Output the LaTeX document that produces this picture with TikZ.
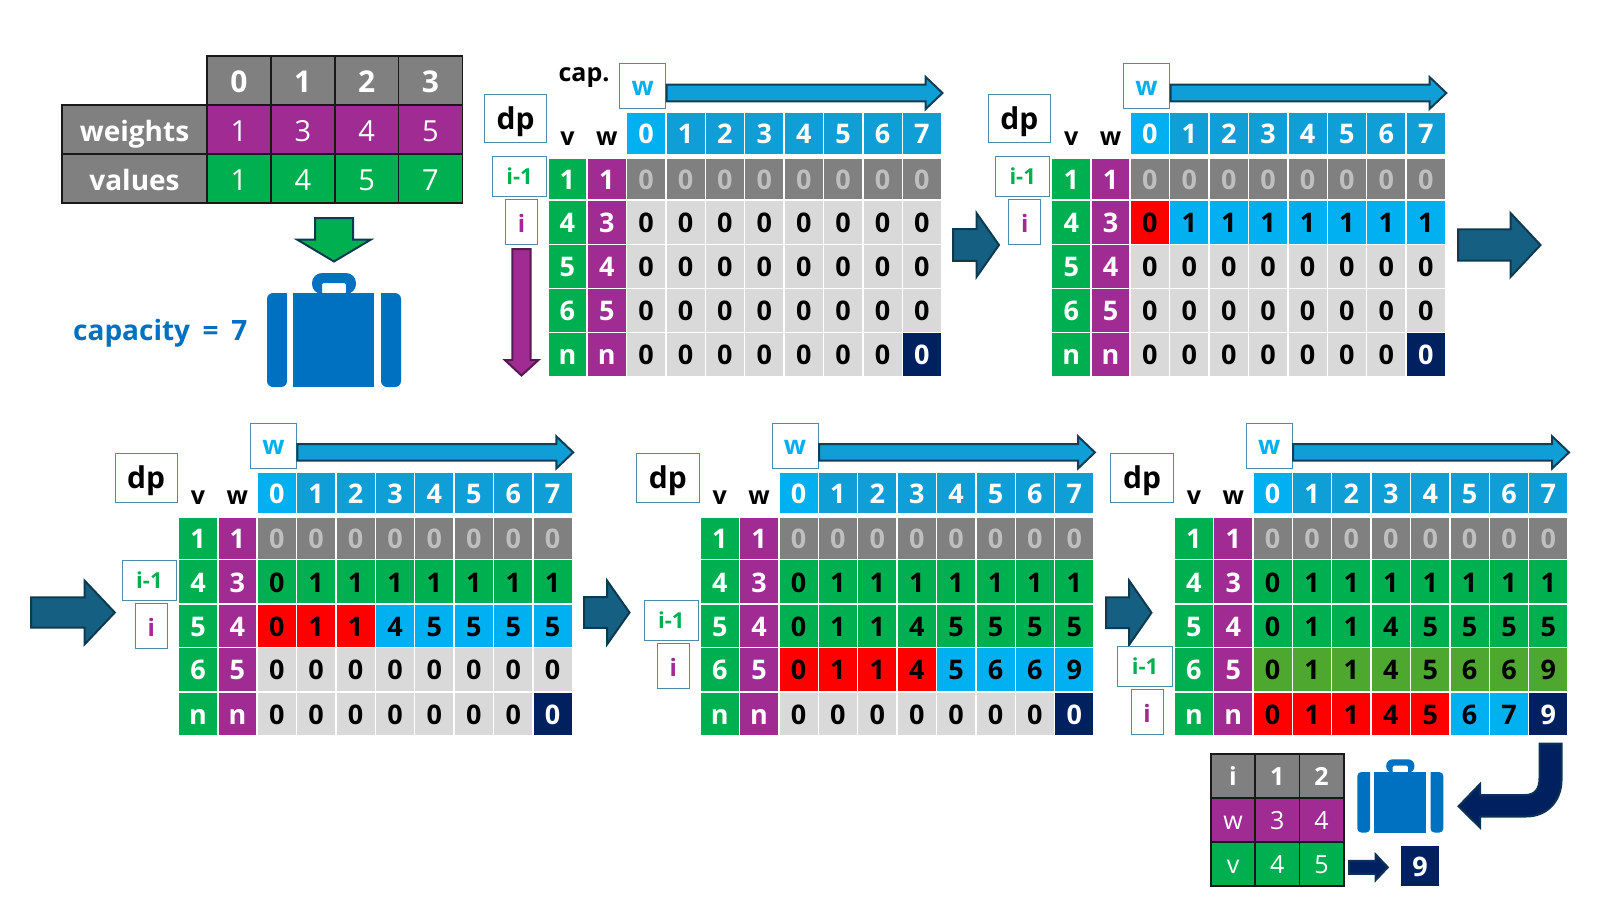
\documentclass[tikz,border=0pt]{standalone}
\usepackage{fontspec}
\setmainfont{Open Sans}

\definecolor{cgray}{HTML}{808080}
\definecolor{cfade}{HTML}{BFBFBF}
\definecolor{clight}{HTML}{D9D9D9}
\definecolor{cgreen}{HTML}{00B050}
\definecolor{colive}{HTML}{4EA72E}
\definecolor{cpurple}{HTML}{A02B93}
\definecolor{cred}{HTML}{FF0000}
\definecolor{csky}{HTML}{00B0F0}
\definecolor{chead}{HTML}{0F9ED5}
\definecolor{cnavy}{HTML}{002060}
\definecolor{cteal}{HTML}{156082}
\definecolor{cbag}{HTML}{0070C0}
\definecolor{cedge}{HTML}{4D8CA8}
\definecolor{cdark}{HTML}{0E3A50}

\tikzset{
    dpcell/.style={inner sep=0pt, minimum width=38pt, text=black, text height=20.5pt, text depth=0pt,
        font=\fontsize{27}{29}\selectfont\bfseries},
    dpside/.style={dpcell, minimum width=37.8pt, text=white},
    dpbox/.style={draw=cedge, line width=1pt, fill=white, inner sep=0pt},
    dplabel/.style={anchor=base, inner sep=0pt, font=\fontsize{25}{27}\selectfont\bfseries},
    tabcell/.style={draw=black!90, line width=1.6pt, inner sep=0pt, text=white, text height=23.5pt, text depth=0pt,
        font=\fontsize{29}{31}\selectfont},
    minicell/.style={draw=black!90, line width=1.6pt, inner sep=0pt, minimum width=44.3pt, minimum height=44pt,
        text=white, text height=19pt, text depth=0pt, font=\fontsize{25}{27}\selectfont},
    blockarrow/.style={line width=2pt, line join=miter, fill=cteal, draw=cdark},
    warrow/.style={blockarrow, fill=chead, draw=cdark!90!cteal},
}

% block arrow pointing right: style, start, head base, tip, y, half shaft, half head
\newcommand{\rightblock}[7]{
    \draw[#1] (#2,#5-#6) -- (#3,#5-#6) -- (#3,#5-#7) -- (#4,#5) -- (#3,#5+#7) -- (#3,#5+#6) -- (#2,#5+#6) -- cycle;
}

% one row of values
\newcommand{\dprow}[5]{
    \edef\dplist{#5}
    \foreach \fc/\val [count=\col from 0] in \dplist {
        \node[dpcell, minimum height=#4, fill=\fc] (#1c\col) at ({#2+97.6+39.4*\col},{#3}) {\val};
    }
}

% whole table: name, x, y, rows 2 to 5, last value
\newcommand{\dpgrid}[8]{
    \node[dpbox, minimum width=62.4pt, minimum height=48.4pt, text height=28pt, text depth=6pt, font=\fontsize{30}{32}\selectfont\bfseries] (#1dp) at ({#2-33},{#3+5.2}) {dp};
    \node[dpbox, minimum width=46pt, minimum height=44.7pt, text=csky, text height=17.4pt, text depth=0pt, font=\fontsize{26}{28}\selectfont\bfseries] (#1w) at ({#2+94.2},{#3-27}) {w};
    \rightblock{warrow}{#2+118.2}{#2+377.2}{#2+394}{#3-20.3}{8.3}{16}
    \node[dplabel] (#1vlabel) at ({#2+18.9},{#3+31.7}) {v};
    \node[dplabel] (#1wlabel) at ({#2+58.2},{#3+31.7}) {w};

    % header and first row
    \foreach \k in {0,...,7} {
        \ifnum\k=0 \def\headfill{csky}\else\def\headfill{chead}\fi
        \node[dpcell, text=white, minimum height=40.7pt, fill=\headfill] (#1h\k) at ({#2+97.6+39.4*\k},{#3+20.4}) {\k};
        \node[dpcell, text=cfade, minimum height=40.5pt, fill=cgray] (#1r1c\k) at ({#2+97.6+39.4*\k},{#3+65.9}) {0};
    }

    % v and w columns
    \foreach \ry/\rh/\vv/\ww [count=\rw] in {65.9/40.5/1/1,109.2/43/4/3,153.2/42.4/5/4,197/42.7/6/5,241.2/42.4/n/n} {
        \node[dpside, minimum height=\rh, fill=cgreen] (#1v\rw) at ({#2+18.9},{#3+\ry}) {\vv};
        \node[dpside, minimum height=\rh, fill=cpurple] (#1u\rw) at ({#2+58.2},{#3+\ry}) {\ww};
    }

    \dprow{#1r2}{#2}{#3+109.2}{43}{#4}
    \dprow{#1r3}{#2}{#3+153.2}{42.4}{#5}
    \dprow{#1r4}{#2}{#3+197}{42.7}{#6}
    \dprow{#1r5}{#2}{#3+241.2}{42.4}{#7}
    \node[dpcell, text=white, minimum height=42.4pt, fill=cnavy] (#1last) at ({#2+373.4},{#3+241.2}) {#8};
}

% i-1 and i boxes
\newcommand{\indexboxes}[3]{
    \node[dpbox, minimum width=54.5pt, minimum height=40.5pt, text=cgreen, text height=16pt, text depth=0pt, font=\fontsize{22}{24}\selectfont\bfseries] (#1prev) at (#2,#3) {i-1};
    \node[dpbox, minimum width=32pt, minimum height=44.6pt, text=cpurple, text height=20pt, text depth=0pt, font=\fontsize{24}{26}\selectfont\bfseries] (#1cur) at (#2+2,#3+45.7) {i};
}

% suitcase, top left corner and scale
\newcommand{\suitcase}[3]{
    \begin{scope}[shift={(#1,#2)}, scale=#3]
        \fill[cbag, even odd rule, rounded corners=#3*10pt] (45,21) -- (45,0) -- (89,0) -- (89,21) -- cycle
            (55,21) [rounded corners=#3*2pt] -- (55,10) -- (79,10) -- (79,21) -- cycle;
        \fill[cbag] (20,20) [rounded corners=#3*6pt] -- (0,20) -- (0,114) -- (20,114) [sharp corners] -- cycle;
        \fill[cbag] (26,20) rectangle (107,114);
        \fill[cbag] (114,20) [rounded corners=#3*6pt] -- (134,20) -- (134,114) -- (114,114) [sharp corners] -- cycle;
    \end{scope}
}

\newcommand{\zeros}{clight/0,clight/0,clight/0,clight/0,clight/0,clight/0,clight/0,clight/0}
\newcommand{\zerosn}{clight/0,clight/0,clight/0,clight/0,clight/0,clight/0,clight/0}
\newcommand{\fromone}{cgreen/0,cgreen/1,cgreen/1,cgreen/1,cgreen/1,cgreen/1,cgreen/1,cgreen/1}
\newcommand{\fromtwo}{cgreen/0,cgreen/1,cgreen/1,cgreen/4,cgreen/5,cgreen/5,cgreen/5,cgreen/5}

\begin{document}
\begin{tikzpicture}[x={(1pt,0pt)}, y={(0pt,-1pt)}]

    \useasboundingbox (0,0) rectangle (1600,900);

    % items table
    \foreach \k in {0,...,3} {
        \node[tabcell, fill=cgray, minimum width=63.8pt, minimum height=49pt, text height=24.5pt, font=\fontsize{30}{32}\selectfont\bfseries] (top\k) at ({239+63.8*\k},80.5) {\k};
    }
    \node[tabcell, fill=cgray, minimum width=145pt, minimum height=49pt, text height=23pt, font=\fontsize{28}{30}\selectfont\bfseries] (weights) at (134.5,129.5) {weights};
    \node[tabcell, fill=cgray, minimum width=145pt, minimum height=49pt, text height=23pt, font=\fontsize{28}{30}\selectfont\bfseries] (values) at (134.5,178.5) {values};
    \foreach \wt/\vl [count=\k from 0] in {1/1,3/4,4/5,5/7} {
        \node[tabcell, fill=cpurple, minimum width=63.8pt, minimum height=49pt] (wt\k) at ({239+63.8*\k},129.5) {\wt};
        \node[tabcell, fill=cgreen, minimum width=63.8pt, minimum height=49pt] (vl\k) at ({239+63.8*\k},178.5) {\vl};
    }

    % down arrow and suitcase
    \draw[blockarrow, fill=cgreen] (315,218) -- (353,218) -- (353,239.5) -- (371,239.5) -- (334,261.5) -- (297,239.5) -- (315,239.5) -- cycle;
    \suitcase{267}{273}{1}
    \node[anchor=base west, inner sep=0pt, text=cbag, font=\fontsize{28}{30}\selectfont\bfseries] (capacity) at (73,340) {capacity\hspace{0.45em}=\hspace{0.45em}7};

    % first table
    \dpgrid{a}{548.5}{113.3}{\zeros}{\zeros}{\zeros}{\zerosn}{0}
    \indexboxes{a}{519.5}{176.3}
    \node[dplabel] (cap) at (584,81) {cap.};
    \draw[blockarrow, fill=cpurple, draw=cpurple!55!black] (512.3,249) -- (530.7,249) -- (530.7,360) -- (538.5,360) -- (521.5,375.5) -- (504.8,360) -- (512.3,360) -- cycle;

    % second table
    \rightblock{blockarrow}{953}{976.5}{999}{245}{15.8}{32}
    \dpgrid{b}{1052.3}{113.3}{cred/0,csky/1,csky/1,csky/1,csky/1,csky/1,csky/1,csky/1}{\zeros}{\zeros}{\zerosn}{0}
    \indexboxes{b}{1022.7}{176.3}
    \rightblock{blockarrow}{1458}{1510.5}{1540.5}{245}{15.6}{32}

    % third table
    \rightblock{blockarrow}{31}{84.5}{114.8}{612.5}{15.2}{32}
    \dpgrid{c}{179.2}{472.7}{\fromone}{cred/0,cred/1,cred/1,csky/4,csky/5,csky/5,csky/5,csky/5}{\zeros}{\zerosn}{0}
    \indexboxes{c}{149.4}{580.5}

    % fourth table
    \rightblock{blockarrow}{584}{607}{629.5}{612.5}{15.4}{32}
    \dpgrid{d}{700.9}{472.7}{\fromone}{\fromtwo}{cred/0,cred/1,cred/1,cred/4,csky/5,csky/6,csky/6,csky/9}{\zerosn}{0}
    \indexboxes{d}{671.3}{620.5}

    % fifth table
    \rightblock{blockarrow}{1106}{1129.2}{1151.5}{612.7}{15.4}{32}
    \dpgrid{e}{1175}{472.7}{\fromone}{\fromtwo}{colive/0,colive/1,colive/1,colive/4,colive/5,colive/6,colive/6,colive/9}{cred/0,cred/1,cred/1,cred/4,cred/5,csky/6,csky/7}{9}
    \indexboxes{e}{1145.1}{666.5}

    % curved arrow to the result
    \draw[blockarrow, fill=cnavy, draw=cdark!70!cnavy] (1539.5,743.5) -- (1539.5,778) .. controls (1539.5,789) and (1535,795) .. (1525,795)
        -- (1480,795) -- (1480,784) -- (1458.5,806.3) -- (1480,827.5) -- (1480,816.5) -- (1526,816.5)
        .. controls (1548,816.5) and (1561.5,800) .. (1561.5,780) -- (1561.5,743.5) -- cycle;

    % chosen items
    \foreach \tp/\wt/\vl [count=\k from 0] in {i/w/v,1/3/4,2/4/5} {
        \node[minicell, fill=cgray, font=\fontsize{25}{27}\selectfont\bfseries] (pick\k) at ({1233+44.3*\k},775.7) {\tp};
        \node[minicell, fill=cpurple] (pickw\k) at ({1233+44.3*\k},820) {\wt};
        \node[minicell, fill=cgreen] (pickv\k) at ({1233+44.3*\k},864) {\vl};
    }
    \suitcase{1357.3}{759.3}{0.642}
    \rightblock{blockarrow, fill=cnavy, draw=cdark!70!cnavy}{1349}{1375.5}{1387.8}{867.3}{6.5}{13}
    \node[dpcell, text=white, fill=cnavy, minimum width=37.4pt, minimum height=40pt] (answer) at (1420,866) {9};

\end{tikzpicture}
\end{document}
